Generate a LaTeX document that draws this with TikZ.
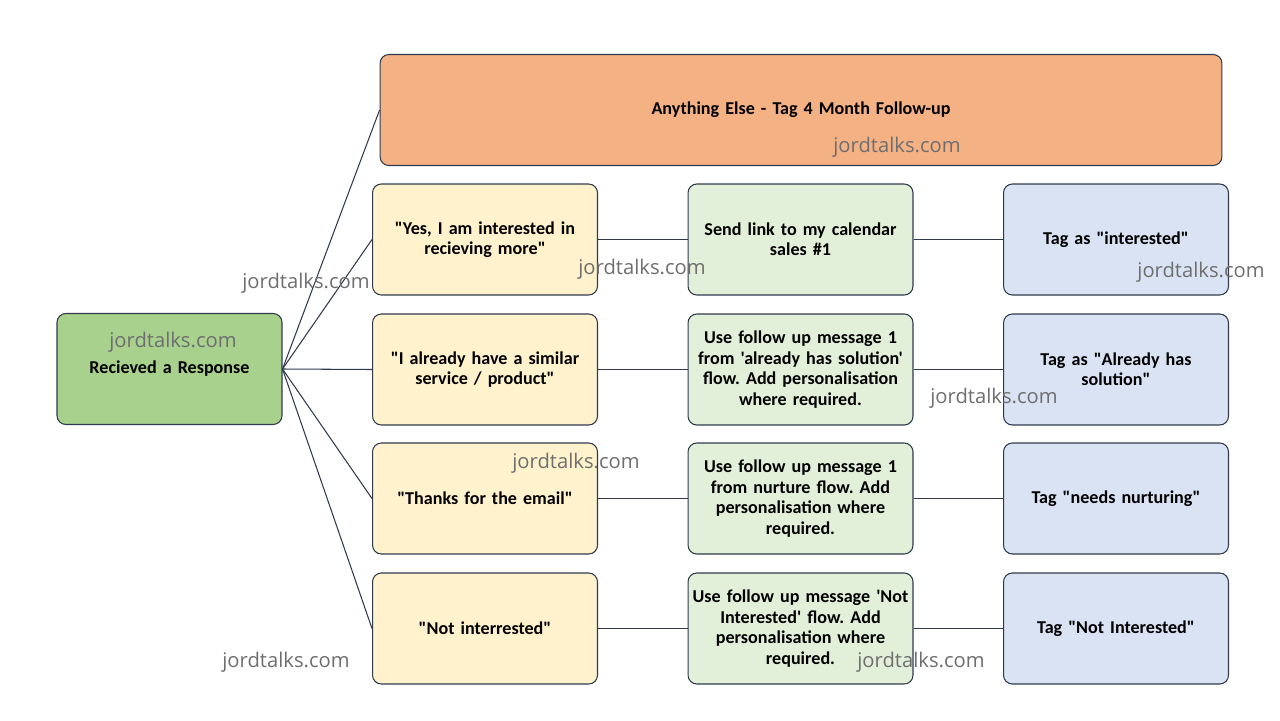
\documentclass[tikz,border=0pt]{standalone}
\usepackage{fontspec}
\setmainfont[Ligatures=TeXOff]{Carlito}
\newfontfamily\wmfont{Open Sans}
\newcommand\qq{"}
\newcommand\qs{'}
\frenchspacing
\begin{document}
\begin{tikzpicture}[x=0.02cm,y=-0.02cm,
  box/.style={draw={rgb,255:red,47;green,59;blue,76},line width=0.6pt,rounded corners=5pt,minimum width=4.5cm,minimum height=2.22cm,align=center,font=\bfseries\fontsize{10.3}{11.6}\selectfont,text width=4.35cm,inner sep=1pt},
  c1/.style={box,fill={rgb,255:red,255;green,242;blue,204}},
  c2/.style={box,fill={rgb,255:red,226;green,240;blue,217}},
  c3/.style={box,fill={rgb,255:red,218;green,227;blue,243}},
  ln/.style={draw={rgb,255:red,47;green,59;blue,76},line width=0.6pt},
  wm/.style={font=\wmfont\fontsize{11.5}{13}\selectfont,text={rgb,255:red,110;green,110;blue,110}}]
\useasboundingbox (0,0) rectangle (1280,720);
\node[box,fill={rgb,255:red,169;green,209;blue,142},minimum width=4.5cm] (root) at (169.5,369) {Recieved a Response};
\node[box,fill={rgb,255:red,244;green,177;blue,131},minimum width=16.84cm,text width=16cm] (top) at (801,110) {Anything Else - Tag 4 Month Follow-up};
\node[c1] (a1) at (485,239.5) {\qq Yes, I am interested in\\ recieving more\qq};
\node[c1] (b1) at (485,369.5) {\qq I already have a similar\\ service / product\qq};
\node[c1] (d1) at (485,498.5) {\qq Thanks for the email\qq};
\node[c1] (e1) at (485,628.5) {\qq Not interrested\qq};
\node[c2] (a2) at (800.5,239.5) {Send link to my calendar\\ sales \#1};
\node[c2] (b2) at (800.5,369.5) {Use follow up message 1\\ from \qs already has solution\qs\\ flow. Add personalisation\\ where required.};
\node[c2] (d2) at (800.5,498.5) {Use follow up message 1\\ from nurture flow. Add\\ personalisation where\\ required.};
\node[c2] (e2) at (800.5,628.5) {Use follow up message \qs Not\\ Interested\qs{} flow. Add\\ personalisation where\\ required.};
\node[c3] (a3) at (1116,239.5) {Tag as \qq interested\qq};
\node[c3] (b3) at (1116,369.5) {Tag as \qq Already has\\ solution\qq};
\node[c3] (d3) at (1116,498.5) {Tag \qq needs nurturing\qq};
\node[c3] (e3) at (1116,628.5) {Tag \qq Not Interested\qq};
\foreach \n in {a,b,d,e}{
  \draw[ln] (root.east) -- (\n1.west);
  \draw[ln] (\n1) -- (\n2);
  \draw[ln] (\n2) -- (\n3);
}
\draw[ln] (root.east) -- (top.west);
\foreach \p in {(173,342),(897,147),(306,283),(642,269),(1201,272),(994,398),(576,463),(286,662),(921,662)}
  \node[wm] at \p {jordtalks.com};
\end{tikzpicture}
\end{document}
